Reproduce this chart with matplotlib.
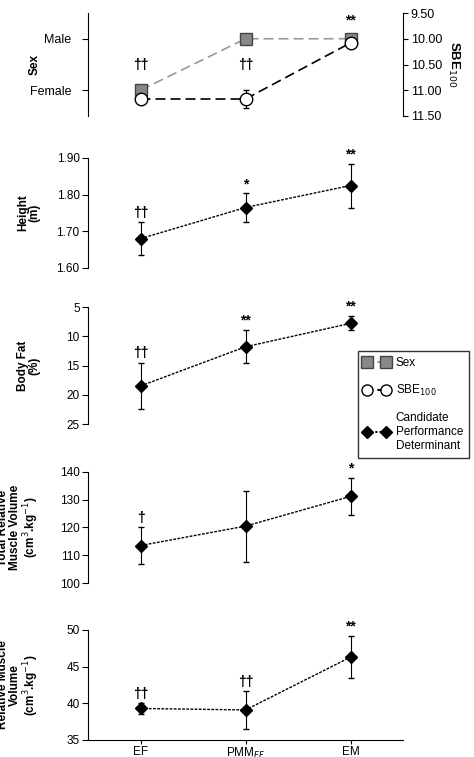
import matplotlib.pyplot as plt
from matplotlib.lines import Line2D

plt.rcParams['font.family'] = ['Liberation Sans', 'DejaVu Sans']
plt.rcParams['font.size'] = 8.5

groups = ['EF', 'PMM$_{FF}$', 'EM']
x = [0, 1, 2]

sex = [11.0, 10.0, 10.0]  # Female=11, Male=10 on SBE scale
sbe = [11.17, 11.17, 10.08]
sbe_err = [0, 0.18, 0]
height = [1.68, 1.765, 1.825]
height_err = [0.045, 0.04, 0.06]
fat = [18.5, 11.8, 7.8]
fat_err = [4.0, 2.8, 1.2]
tmv = [113.5, 120.5, 131.2]
tmv_err = [6.5, 12.8, 6.7]
hip = [39.3, 39.1, 46.3]
hip_err = [0.7, 2.6, 2.9]

sig_top = ['††', '††', '**']
sig_height = ['††', '*', '**']
sig_fat = ['††', '**', '**']
sig_tmv = ['†', '', '*']
sig_hip = ['††', '††', '**']

W, H = 474, 757
fig = plt.figure(figsize=(W / 100, H / 100), dpi=100)

def mkax(top, bottom):
    return fig.add_axes([88 / W, 1 - bottom / H, (403 - 88) / W, (bottom - top) / H])

def style(ax, show_x=False):
    ax.spines['top'].set_visible(False)
    ax.spines['right'].set_visible(False)
    ax.set_xlim(-0.5, 2.5)
    ax.set_xticks(x)
    if show_x:
        ax.set_xticklabels(groups)
    else:
        ax.spines['bottom'].set_visible(False)
        ax.tick_params(axis='x', bottom=False, labelbottom=False)
    ax.tick_params(axis='y', direction='out', length=4, pad=2)

def diamond(ax, vals, errs, sig, off):
    ax.errorbar(x, vals, yerr=errs, fmt='D', ls=(0, (2, 1)), color='black', lw=1,
                ms=6, capsize=2, elinewidth=0.8)
    for xi, v, e, s in zip(x, vals, errs, sig):
        if s:
            ax.text(xi, v + e + off, s, ha='center', va='bottom', fontsize=10, fontweight='bold')

lab = dict(fontsize=8.5, fontweight='bold', linespacing=1.0)

# panel 1
ax1 = mkax(13, 116)
style(ax1)
ax1.set_ylim(11.5, 9.5)
ax1.set_yticks([10.0, 11.0])
ax1.set_yticklabels(['Male', 'Female'], fontsize=9)
ax1.tick_params(axis='y', pad=8)
ax1.set_ylabel('Sex', **lab)
ax1.plot(x, sex, ls=(0, (6, 3)), color='#999999', lw=1.2, marker='s', ms=8,
         mfc='#888888', mec='#444444')
ax1.errorbar(x, sbe, yerr=sbe_err, ls=(0, (6, 3)), color='black', lw=1.2, marker='o', ms=9,
             mfc='white', mec='black', capsize=2, elinewidth=0.8)
tx = [(0, 10.65), (1, 10.65), (2, 9.78)]
for (xi, yi), s in zip(tx, sig_top):
    ax1.text(xi, yi, s, ha='center', va='bottom', fontsize=10, fontweight='bold')
ax1r = ax1.twinx()
ax1r.set_ylim(11.5, 9.5)
ax1r.set_yticks([9.5, 10.0, 10.5, 11.0, 11.5])
ax1r.set_yticklabels(['9.50', '10.00', '10.50', '11.00', '11.50'], fontsize=9)
ax1r.tick_params(axis='y', pad=2)
for sp in ['top', 'left', 'bottom']:
    ax1r.spines[sp].set_visible(False)
ax1r.set_ylabel('SBE$_{100}$', fontsize=9.5, fontweight='bold', rotation=270, labelpad=14)

# panel 2
ax2 = mkax(158, 268)
style(ax2)
ax2.set_ylim(1.6, 1.9)
ax2.set_yticks([1.6, 1.7, 1.8, 1.9])
ax2.set_yticklabels(['1.60', '1.70', '1.80', '1.90'])
ax2.set_ylabel('Height\n(m)', **lab)
diamond(ax2, height, height_err, sig_height, 0.005)

# panel 3
ax3 = mkax(307, 424)
style(ax3)
ax3.set_ylim(25, 5)
ax3.set_yticks([5, 10, 15, 20, 25])
ax3.set_ylabel('Body Fat\n(%)', **lab)
ax3.errorbar(x, fat, yerr=fat_err, fmt='D', ls=(0, (2, 1)), color='black', lw=1,
             ms=6, capsize=2, elinewidth=0.8)
for xi, v, e, s in zip(x, fat, fat_err, sig_fat):
    ax3.text(xi, v - e - 0.5, s, ha='center', va='bottom', fontsize=10, fontweight='bold')

# panel 4
ax4 = mkax(472, 583)
style(ax4)
ax4.set_ylim(100, 140)
ax4.set_yticks([100, 110, 120, 130, 140])
ax4.set_ylabel('Total Relative\nMuscle Volume\n(cm$^3$.kg$^{-1}$)', **lab)
diamond(ax4, tmv, tmv_err, sig_tmv, 0.8)

# panel 5
ax5 = mkax(630, 740)
style(ax5, show_x=True)
ax5.set_ylim(35, 50)
ax5.set_yticks([35, 40, 45, 50])
ax5.set_ylabel('Hip Extensor\nRelative Muscle\nVolume\n(cm$^3$.kg$^{-1}$)', **lab)
diamond(ax5, hip, hip_err, sig_hip, 0.3)
ax5.tick_params(axis='x', labelsize=8.5, length=3, pad=1)

for ax in [ax1, ax2, ax3, ax4, ax5]:
    ax.yaxis.set_label_coords(-0.15, 0.5)

handles = [
    Line2D([], [], ls=(0, (3, 2)), color='#999999', marker='s', ms=8, mfc='#888888', mec='#444444'),
    Line2D([], [], ls=(0, (3, 2)), color='black', marker='o', ms=8, mfc='white', mec='black'),
    Line2D([], [], ls=(0, (1, 1)), color='black', marker='D', ms=6),
]
fig.legend(handles, ['Sex', 'SBE$_{100}$', 'Candidate\nPerformance\nDeterminant'],
           loc='upper left', bbox_to_anchor=(352 / W, 1 - 345 / H), fontsize=8.5,
           frameon=True, fancybox=False, edgecolor='black', labelspacing=1.2,
           handlelength=2.2, handletextpad=0.5, borderpad=0.5, numpoints=2)

fig.savefig('out.png', dpi=100)
